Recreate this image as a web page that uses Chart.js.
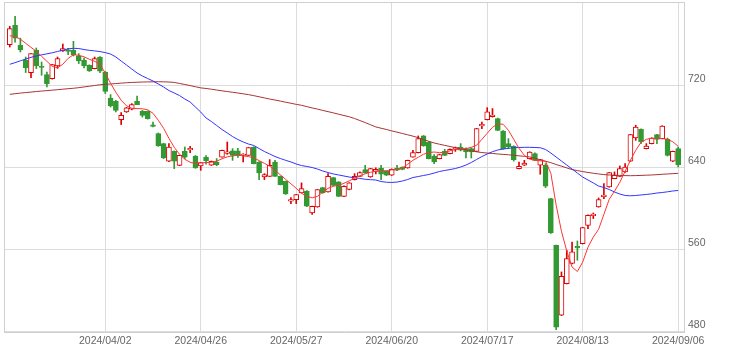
<!DOCTYPE html>
<html>
<head>
<meta charset="utf-8">
<script src="https://cdn.jsdelivr.net/npm/chart.js@4.4.1/dist/chart.umd.min.js"></script>
<style>
html, body { margin: 0; padding: 0; background: #fff; }
</style>
</head>
<body>
<canvas id="myChart" width="729" height="354"></canvas>
<script>
// daily candles, index 0 = first session shown, 126 = 2024/09/06
var open = [759.7,778.5,759,744.4,732.4,754.1,738.5,730.4,726.5,738.8,
  753.5,754.5,754.1,748.6,744.4,739.5,736.3,747.6,733,707.6,
  704.4,686.5,694,696.6,704.4,694.6,694.6,681.5,672.9,663.1,
  645.9,655.6,641.9,655.6,657,651,641.3,649.7,642,645.2,
  650,653.5,656,656,651.5,651.7,659.8,645.2,630.5,631.2,
  645.2,631.2,626.3,607,608.5,615,616.9,595.5,601.3,620.2,
  616,629.9,625.7,611.7,618.3,628,631.2,637.8,630.5,636,
  639.3,636.1,632.2,639.3,640,639.3,650,654.3,670.6,664.7,
  651,648.5,655.6,653.4,657.8,659.8,658.2,658.2,655.6,680.3,
  686.5,689.5,687.5,675.4,663.1,660.5,638.7,642,648.5,653.4,
  642,642,609.4,563.9,495.6,526.5,546.1,562.8,565.5,583.4,
  592.8,601.3,611.3,620.8,629,631.2,635.4,645.9,668.6,677.1,
  658.2,663.1,671.9,668,667.3,645.9,658.2];
var high = [777.6,787.3,766,747.6,751,756.4,742.7,733,740.5,747.6,
  760.3,756,762.9,750.9,746.6,740,747.6,748,733.5,710.9,
  705.4,693.4,698.5,702.1,709.6,695.6,695,684.2,673.5,663.5,
  663.1,656,652,659.8,660.5,651.5,644.8,651.5,646.2,648.5,
  656.8,664.7,658.2,658.5,653.3,659.5,660,645.5,633.8,647.5,
  646.8,631.5,626.5,610.4,613.6,624.8,617.2,602.2,618.4,620.5,
  633.8,630.2,626,621.8,625,633.8,635.5,641.9,639,639.5,
  642,636.5,638.5,642,640.5,647,656.6,670.6,671,665,
  652.4,652.8,657.6,657.9,659.8,663.1,659,658.8,678,684.2,
  698.2,697.3,688,675.8,668,661,645.2,646.8,655.2,654,
  647.8,643.6,609.8,564.2,537.9,559,567.1,568.1,581.5,593.5,
  595.4,610.1,624.1,635,635.5,641.3,643.6,672.2,681,677.5,
  663.1,668.9,672.2,680.6,668.5,655.9,659.8];
var low = [757.4,762.2,752.5,732.4,727.5,736.3,729.8,718.4,726,736.5,
  753,750,748.6,741.2,736.9,733.5,736,732.4,712,698.8,
  694,681.7,693.5,696,701,689,687,679.3,660.5,648.5,
  645.5,638.7,641.5,648.5,654.3,639,637,643,641.8,641.5,
  649.8,652.7,646.8,649.7,645.2,651.5,643.3,628,628,631,
  631,622.8,613.5,604.6,604.6,614.8,601.7,594.1,601,614.7,
  615.8,622,611.4,611.4,618,627.6,631,634.2,630.2,633.5,
  628,631.8,632,636.8,637.5,639,649.8,654,660.5,648.2,
  643.6,648.2,651.4,653.1,655.5,656,649.1,649.1,655.3,677.8,
  686.2,689,675.8,657.8,658.2,646,638.4,641.7,648.2,646.4,
  633.2,620.2,575.5,481.5,495.3,526.2,545.8,549.3,565.2,580.2,
  590,601,609.4,620.5,628.8,631,635.1,645.6,666.3,663,
  657.9,662.8,663.1,667.7,651,645.6,640.3];
var close = [775.3,766.1,754.4,736.9,750.9,738.8,737.5,721.6,740.2,746,
  755.8,753,749.9,743.7,738.8,734,746,733.7,714.1,699.8,
  695.6,690.7,697.9,701.2,701.2,690.7,687.5,680,660.8,649.1,
  659.8,645.9,651.7,650,658.5,639.3,644.6,646.5,645.9,642.6,
  656.6,655,651.7,651.7,653,659.2,643.6,634.4,632.9,641.9,
  631.2,623.1,614,608.6,613.4,619.2,602,602,618.2,615,
  631.2,622.4,611.7,621.5,624.8,631.2,634.8,634.5,638.7,638,
  633.2,632.2,638.1,637.1,638,646.8,654.3,668,660.8,648.5,
  645.2,652.4,651.7,657.6,659.3,656.6,654.9,654.9,677.8,682,
  694,691,676.1,658.2,659.8,647.5,641,644.2,654.9,646.8,
  647.5,621.5,575.9,484.1,533.7,550.9,557.4,561.3,581.2,593.2,
  594.3,608.5,612.8,634.8,632.2,638.7,640.3,671.9,679.3,664.7,
  660.8,668.6,667.3,680.3,651.7,655.6,642.6];

// moving averages as drawn (short / mid / long)
var maShort = [768.3,767.8,764.9,761,757,753.2,748.3,743.4,738.5,737.1,
  740.5,746.3,749.8,749.3,747.8,745.4,743.4,740.5,732,722,
  713.2,705.4,700,697.6,697.3,697.1,696.1,692.7,685.9,678,
  668.3,659.5,652.7,647.8,644.9,643.6,644.4,644.6,644.9,645.9,
  648.3,650.2,651.2,651.7,651.2,650.4,649.3,646.5,643.9,641,
  637.1,632.7,628.3,623.9,619.5,614.6,611.7,610.2,611.7,615.6,
  619.5,621.5,622.4,624.4,626.8,629.3,631.7,633.7,635.1,636.1,
  636.6,636.6,637.5,637.6,639.5,642.9,646.8,649.8,652.7,654.3,
  654.9,654.3,654.6,656.1,657.3,657.9,658.2,659.5,661.5,667.3,
  673.2,679,682.4,682,676.1,667.3,658.5,651.7,648.1,646.8,
  646.3,645.9,634.1,603,577.6,558.3,542.7,538.3,547.5,562.1,
  571.9,579.5,594.1,608.8,616.6,625.4,636.1,646.8,656.6,664.4,
  667.3,668.3,668.3,668,667.3,664.9,660.5];
var maMid = [740.5,742.1,743.9,745.6,747.3,748.6,749.7,750.7,751.7,753,
  754.2,755.6,756.1,755.9,754.9,754.1,753.6,752.9,751.9,750.5,
  747.6,743.7,739.8,735.9,732,729.1,726.6,724.2,721.3,718.3,
  714.9,712.5,710,706.6,703.7,698.8,693.9,688.1,684.7,680.8,
  676.9,673.5,670,667.1,664.7,662.7,661.3,658.3,655.4,653,
  650.5,648.6,646.8,645.2,643.2,641.7,640.8,639.8,638.3,636.4,
  634.9,633.5,632.5,631.5,630.5,629.8,629.1,628.3,627.9,627.6,
  626.1,625.4,625.2,625.6,626.6,628.1,630,631,632,633,
  634.4,635.9,636.9,637.8,638.8,640.3,642.2,644.7,647.6,650.5,
  653,655.2,656.9,657.8,658.5,659.1,659.3,659.5,659.5,659.3,
  659.1,657.4,653.9,650,646.1,642.2,638.3,634.4,630.5,627.6,
  624.7,621.7,620.3,618.3,615.9,613.9,612.5,612.2,612.5,613,
  613.5,614.1,614.9,615.4,616.1,616.9,617.4];
var maLong = [711.2,711.8,712.4,712.9,713.4,713.9,714.4,714.8,715.3,715.7,
  716.2,716.7,717.1,717.7,718.4,719.1,719.8,720.5,721,721.3,
  721.7,722.1,722.5,722.8,723,723.2,723.3,723.4,723.5,723.4,
  723.2,722.8,721.8,720.8,719.7,718.6,717.5,716.9,716.2,715.4,
  714.6,713.9,713.2,712.5,711.7,710.9,709.9,708.8,707.7,706.6,
  705.6,704.6,703.5,702.5,701.4,700.5,699.2,697.9,696.8,695.5,
  694.3,693.1,691.8,690.5,689.3,687.6,685.6,683.6,681.5,679.4,
  678.1,676.9,675.5,674.3,673,671.7,670.4,668.9,667.1,665.4,
  663.7,662.5,661.4,660.3,659.1,658,657.1,656,655.1,654.4,
  653.9,653.5,653,652.6,652.2,651.7,651.2,650.7,650.1,648.9,
  647.3,645.9,644.5,642.7,641.1,639.4,637.8,636.8,635.8,635,
  634.2,633.5,632.9,632.5,632.3,632.1,631.9,631.8,631.9,632.1,
  632.3,632.5,632.8,633.2,633.5,633.8,634.1];

var tickIndex = [18, 36, 54, 72, 90, 108, 126];
var tickLabels = ['2024/04/02', '2024/04/26', '2024/05/27', '2024/06/20', '2024/07/17', '2024/08/13', '2024/09/06'];
var priceTicks = [480, 560, 640, 720];

var UP = '#dd0000';
var DOWN = '#339933';

var bodies = [], wicks = [], fills = [], edges = [];
for (var i = 0; i < open.length; i++) {
    var up = close[i] >= open[i];
    bodies.push({x: i, y: [open[i], close[i]]});
    wicks.push({x: i, y: [low[i], high[i]]});
    fills.push(up ? '#ffffff' : DOWN);
    edges.push(up ? UP : DOWN);
}
function line(arr) {
    return arr.map(function (v, i) { return {x: i, y: v}; });
}

var frame = {
    id: 'frame',
    beforeDatasetsDraw: function (chart) {
        var a = chart.chartArea, c = chart.ctx;
        c.save();
        c.strokeStyle = '#d0d0d0';
        c.lineWidth = 1;
        c.strokeRect(Math.round(a.left) - 0.5, Math.round(a.top) - 0.5, Math.round(a.right - a.left) + 1, Math.round(a.bottom - a.top) + 1);
        c.restore();
    }
};

var tickFont = {family: '"Liberation Sans", Arial, sans-serif', size: 10.5};

var ctx = document.getElementById('myChart').getContext('2d');
var myChart = new Chart(ctx, {
    type: 'bar',
    data: {
        datasets: [
            {type: 'line', data: line(maShort), borderColor: '#ff3333', borderWidth: 1, pointRadius: 0, order: 0},
            {type: 'line', data: line(maMid), borderColor: '#3333ff', borderWidth: 1, pointRadius: 0, order: 0},
            {type: 'line', data: line(maLong), borderColor: '#a83434', borderWidth: 1, pointRadius: 0, order: 0},
            {data: bodies, backgroundColor: fills, borderColor: edges, borderWidth: 1, borderSkipped: false,
                barThickness: 5, grouped: false, order: 1},
            {data: wicks, backgroundColor: edges, borderWidth: 0, barThickness: 1, grouped: false, order: 2}
        ]
    },
    options: {
        responsive: false,
        devicePixelRatio: 1,
        animation: false,
        layout: {padding: {left: 5, top: 3, right: 0, bottom: 0}},
        plugins: {legend: {display: false}, tooltip: {enabled: false}},
        scales: {
            x: {
                type: 'linear', min: -0.9, max: 127.1, offset: false,
                grid: {color: '#dcdcdc', drawTicks: false, offset: false},
                border: {color: '#d0d0d0'},
                afterBuildTicks: function (s) { s.ticks = tickIndex.map(function (v) { return {value: v}; }); },
                afterFit: function (s) { s.height = 22; s.paddingLeft = 0; s.paddingRight = 0; },
                ticks: {
                    autoSkip: false, maxRotation: 0, padding: 3, color: '#666', font: tickFont,
                    callback: function (v) { var k = tickIndex.indexOf(v); return k < 0 ? '' : tickLabels[k]; }
                }
            },
            y: {
                position: 'right', min: 479.3, max: 800.3,
                grid: {color: '#dcdcdc', drawTicks: false},
                border: {color: '#d0d0d0'},
                afterBuildTicks: function (s) { s.ticks = priceTicks.map(function (v) { return {value: v}; }); },
                afterFit: function (s) { s.width = 45; s.paddingTop = 0; s.paddingBottom = 0; },
                ticks: {padding: 4, labelOffset: -6, color: '#666', font: tickFont}
            }
        }
    },
    plugins: [frame]
});
</script>
</body>
</html>
